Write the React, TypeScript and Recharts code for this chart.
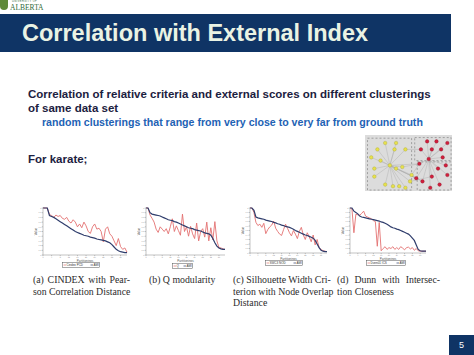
import React from 'react';
import {
  LineChart,
  Line,
  XAxis,
  YAxis,
  ScatterChart,
  Scatter,
  ReferenceLine,
  ReferenceArea,
} from 'recharts';

// x categories: partitionings of karate, ordered from close to far from ground truth
const partitions = [
  0, 1, 2, 3, 4, 5, 6, 7, 8, 9, 10, 11, 12, 13, 14, 15, 16, 17, 18, 19, 20, 21, 22, 23, 24, 25,
  26, 27, 28, 29, 30, 31, 32, 33, 34, 35, 36, 37, 38, 39,
];
const xTicks = [0, 4, 8, 12, 16, 20, 24, 28, 32, 36];
const yTicks = [0, 0.1, 0.2, 0.3, 0.4, 0.5, 0.6, 0.7, 0.8, 0.9, 1];

// (a) CINDEX with Pearson correlation distance
const cindexPcd = [
  1, 1, 1, 0.86, 0.84, 0.8, 0.85, 0.82, 0.84, 0.78, 0.76, 0.8, 0.72, 0.68, 0.75, 0.7, 0.6, 0.66,
  0.58, 0.7, 0.62, 0.5, 0.46, 0.6, 0.66, 0.55, 0.57, 0.5, 0.28, 0.55, 0.6, 0.45, 0.4, 0.3, 0.2,
  0.35, 0.18, 0.12, 0.15, 0.06,
];
const amiA = [
  1, 1, 1, 0.84, 0.82, 0.8, 0.77, 0.74, 0.71, 0.68, 0.65, 0.62, 0.59, 0.56, 0.53, 0.5, 0.48, 0.46,
  0.44, 0.42, 0.41, 0.4, 0.38, 0.37, 0.36, 0.34, 0.33, 0.32, 0.31, 0.3, 0.28, 0.26, 0.22, 0.17,
  0.12, 0.09, 0.07, 0.06, 0.05, 0.05,
];

// (b) Q modularity
const modularityQ = [
  1, 1, 0.85, 0.78, 0.7, 0.55, 0.48, 0.6, 0.55, 0.5, 0.56, 0.45, 0.6, 0.77, 0.5, 0.62, 0.52, 0.42,
  0.87, 0.5, 0.6, 0.4, 0.61, 0.45, 0.35, 0.68, 0.3, 0.5, 0.56, 0.38, 0.7, 0.3, 0.58, 0.32, 0.71,
  0.3, 0.16, 0.15, 0.13, 0.12,
];
const amiB = [
  1, 1, 0.9, 0.87, 0.86, 0.85, 0.84, 0.83, 0.81, 0.79, 0.77, 0.75, 0.74, 0.73, 0.71, 0.7, 0.68,
  0.66, 0.64, 0.62, 0.6, 0.58, 0.57, 0.56, 0.54, 0.53, 0.52, 0.51, 0.49, 0.47, 0.46, 0.45, 0.42,
  0.35, 0.26, 0.19, 0.15, 0.13, 0.12, 0.12,
];

// (c) Silhouette width criterion with node overlap distance
const swcNod = [
  1, 1, 0.9, 0.68, 0.61, 0.64, 0.57, 0.66, 0.43, 0.52, 0.58, 0.62, 0.71, 0.55, 0.48, 0.42, 0.39,
  0.52, 0.64, 0.55, 0.45, 0.38, 0.5, 0.42, 0.32, 0.48, 0.57, 0.4, 0.3, 0.45, 0.36, 0.25, 0.4,
  0.18, 0.3, 0.12, 0.08, 0.05, 0.04, 0.03,
];
const amiC = [
  1, 1, 0.95, 0.8, 0.78, 0.77, 0.76, 0.75, 0.73, 0.72, 0.71, 0.7, 0.68, 0.67, 0.65, 0.64, 0.62,
  0.61, 0.59, 0.58, 0.57, 0.55, 0.53, 0.5, 0.48, 0.46, 0.44, 0.42, 0.4, 0.39, 0.37, 0.35, 0.33,
  0.28, 0.2, 0.12, 0.06, 0.04, 0.03, 0.03,
];

// (d) Dunn with intersection closeness
const dunnIcs = [
  1, 0.98, 0.45, 0.86, 0.85, 0.84, 0.88, 0.93, 0.82, 0.8, 0.78, 0.76, 0.72, 0.7, 0.15, 0.68, 0.05,
  0.1, 0.14, 0.08, 0.12, 0.1, 0.14, 0.08, 0.12, 0.08, 0.14, 0.11, 0.07, 0.12, 0.13, 0.09, 0.12,
  0.06, 0.1, 0.05, 0.04, 0.04, 0.04, 0.04,
];
const amiD = [
  1, 1, 0.93, 0.9, 0.87, 0.82, 0.8, 0.79, 0.78, 0.77, 0.76, 0.75, 0.74, 0.73, 0.72, 0.71, 0.69,
  0.68, 0.66, 0.64, 0.61, 0.58, 0.56, 0.55, 0.53, 0.52, 0.5, 0.48, 0.46, 0.44, 0.42, 0.38, 0.33,
  0.28, 0.18, 0.08, 0.05, 0.04, 0.04, 0.04,
];

// karate network thumbnail (first node of each group is its hub)
const yellowNodes = [
  { x: 80, y: 95 }, { x: 65, y: 25 }, { x: 100, y: 25 }, { x: 130, y: 45 }, { x: 20, y: 70 },
  { x: 40, y: 45 }, { x: 95, y: 45 }, { x: 100, y: 105 }, { x: 120, y: 100 }, { x: 30, y: 105 },
  { x: 30, y: 130 }, { x: 65, y: 155 }, { x: 90, y: 160 }, { x: 110, y: 160 }, { x: 130, y: 165 },
  { x: 150, y: 125 }, { x: 145, y: 145 }, { x: 50, y: 80 },
];
const redNodes = [
  { x: 205, y: 75 }, { x: 200, y: 20 }, { x: 230, y: 20 }, { x: 265, y: 25 }, { x: 180, y: 45 },
  { x: 215, y: 45 }, { x: 245, y: 45 }, { x: 250, y: 70 }, { x: 175, y: 90 }, { x: 235, y: 105 },
  { x: 260, y: 95 }, { x: 215, y: 130 }, { x: 265, y: 125 }, { x: 185, y: 145 }, { x: 240, y: 155 },
  { x: 210, y: 165 }, { x: 165, y: 135 },
];
const crossLinks = [
  [0, 8], [0, 13], [0, 16], [3, 4], [8, 8], [15, 13], [16, 11], [7, 16], [15, 8],
];

const RED = '#e37070';
const NAVY_LINE = '#2f3d6c';
const AXIS = '#9a9a9a';

type MiniProps = {
  x: number;
  y: number;
  w: number;
  h: number;
  crit: number[];
  ami: number[];
  critName: string;
  legend: { x: number; y: number; w: number };
};

const MiniChart: React.FC<MiniProps> = ({ x, y, w, h, crit, ami, critName, legend }) => {
  const data = partitions.map((p, i) => ({ p, crit: crit[i], ami: ami[i] }));
  return (
    <>
      <div style={{ position: 'absolute', left: x - 9, top: y - 2 }}>
        <LineChart
          width={w + 11}
          height={h + 8.5}
          data={data}
          margin={{ top: 2, right: 2, bottom: 0, left: 0 }}
        >
          <XAxis
            dataKey="p"
            type="number"
            domain={[0, 39]}
            ticks={xTicks}
            interval={0}
            height={6.5}
            tickSize={1.2}
            tickMargin={0.3}
            stroke={AXIS}
            strokeWidth={0.6}
            tick={{ fontSize: 2, fill: '#8a8a8a' }}
            label={{ value: 'Partitionings', position: 'insideBottom', offset: 0, fontSize: 3, fill: '#555' }}
          />
          <YAxis
            domain={[0, 1]}
            ticks={yTicks}
            interval={0}
            width={9}
            tickSize={1.2}
            tickMargin={0.4}
            stroke={AXIS}
            strokeWidth={0.6}
            tick={{ fontSize: 2, fill: '#8a8a8a' }}
            label={{
              value: 'Value',
              angle: -90,
              position: 'insideLeft',
              offset: 2,
              fontSize: 3,
              fill: '#555',
              style: { textAnchor: 'middle' },
            }}
          />
          <Line
            dataKey="crit"
            type="linear"
            stroke={RED}
            strokeWidth={0.9}
            dot={false}
            isAnimationActive={false}
          />
          <Line
            dataKey="ami"
            type="linear"
            stroke={NAVY_LINE}
            strokeWidth={1.2}
            dot={false}
            isAnimationActive={false}
          />
        </LineChart>
      </div>
      <svg
        width={legend.w}
        height={6}
        style={{ position: 'absolute', left: legend.x, top: legend.y }}
      >
        <rect x={0.3} y={0.3} width={legend.w - 0.6} height={5.4} fill="#fff" stroke="#555" strokeWidth={0.5} />
        <line x1={1.5} x2={4} y1={3} y2={3} stroke={RED} strokeWidth={0.7} />
        <text x={4.5} y={4} fontSize={3} fill="#333" fontFamily="Liberation Sans, Arial">
          {critName}
        </text>
        <line x1={legend.w - 9.5} x2={legend.w - 7} y1={3} y2={3} stroke={NAVY_LINE} strokeWidth={0.7} />
        <text x={legend.w - 6.6} y={4} fontSize={3} fill="#333" fontFamily="Liberation Sans, Arial">
          AMI
        </text>
      </svg>
    </>
  );
};

const caption: React.CSSProperties = {
  position: 'absolute',
  fontFamily: '"Liberation Serif", "Times New Roman", serif',
  fontSize: 9.8,
  lineHeight: '11.5px',
  color: '#2b2b2b',
  whiteSpace: 'nowrap',
};

const Node = (color: string, edge: string) => (props: any) => (
  <circle cx={props.cx} cy={props.cy} r={1.8} fill={color} stroke={edge} strokeWidth={0.3} />
);

const Network: React.FC = () => (
  <div style={{ position: 'absolute', left: 365, top: 135, width: 87, height: 56, background: '#dcdcdc' }}>
    <ScatterChart width={87} height={56} margin={{ top: 0, right: 0, bottom: 0, left: 0 }}>
      <XAxis type="number" dataKey="x" domain={[0, 280]} hide />
      <YAxis type="number" dataKey="y" domain={[0, 175]} reversed hide />
      <ReferenceArea x1={160} x2={277} y1={8} y2={80} fill="none" stroke="#777" strokeDasharray="2 2" strokeWidth={0.6} />
      <ReferenceArea x1={168} x2={277} y1={84} y2={172} fill="none" stroke="#777" strokeDasharray="2 2" strokeWidth={0.6} />
      <ReferenceArea x1={8} x2={150} y1={10} y2={172} fill="none" stroke="#777" strokeDasharray="2 2" strokeWidth={0.6} />
      {yellowNodes.slice(1).map((n, i) => (
        <ReferenceLine key={`y${i}`} segment={[yellowNodes[0], n]} stroke="#a9a9a9" strokeWidth={0.4} />
      ))}
      {redNodes.slice(1).map((n, i) => (
        <ReferenceLine key={`r${i}`} segment={[redNodes[0], n]} stroke="#a9a9a9" strokeWidth={0.4} />
      ))}
      {crossLinks.map(([a, b], i) => (
        <ReferenceLine key={`c${i}`} segment={[yellowNodes[a], redNodes[b]]} stroke="#a9a9a9" strokeWidth={0.4} />
      ))}
      <Scatter data={yellowNodes} shape={Node('#e6e04c', '#9a9a30')} isAnimationActive={false} />
      <Scatter data={redNodes} shape={Node('#d11f3d', '#7a1020')} isAnimationActive={false} />
    </ScatterChart>
  </div>
);

const App: React.FC = () => (
  <div
    style={{
      position: 'absolute',
      left: 0,
      top: 0,
      width: 474,
      height: 355,
      overflow: 'hidden',
      background: '#fff',
      fontFamily: '"Liberation Sans", Arial, sans-serif',
    }}
  >
    {/* logo */}
    <div style={{ position: 'absolute', left: 0, top: 0, width: 8, height: 10, background: '#5f8a3a', borderRadius: '0 0 4px 4px' }} />
    <div style={{ position: 'absolute', left: 12, top: 0, fontSize: 2.6, color: '#2e6b3a', letterSpacing: 0.4, lineHeight: '3px' }}>
      UNIVERSITY OF
    </div>
    <div style={{ position: 'absolute', left: 10, top: 4, fontSize: 7.5, color: '#2e6b3a', fontFamily: '"Liberation Serif", serif', lineHeight: '7px' }}>
      ALBERTA
    </div>

    {/* title banner */}
    <div style={{ position: 'absolute', left: 0, top: 14, width: 451, height: 38, background: '#0f3465' }} />
    <div
      style={{
        position: 'absolute',
        left: 22,
        top: 19,
        fontSize: 23.5,
        fontWeight: 'bold',
        color: '#eaf3e4',
        lineHeight: '28px',
        whiteSpace: 'nowrap',
      }}
    >
      Correlation with External Index
    </div>

    {/* body text */}
    <div style={{ position: 'absolute', left: 28, top: 88, fontSize: 11.5, fontWeight: 'bold', color: '#1c2140', lineHeight: '13.5px', whiteSpace: 'nowrap' }}>
      Correlation of relative criteria and external scores on different clusterings
      <br />
      of same data set
    </div>
    <div style={{ position: 'absolute', left: 42, top: 116, fontSize: 10.6, fontWeight: 'bold', color: '#2262b4', lineHeight: '13px', whiteSpace: 'nowrap' }}>
      random clusterings that range from very close to very far from ground truth
    </div>
    <div style={{ position: 'absolute', left: 28, top: 153, fontSize: 11.5, fontWeight: 'bold', color: '#1c2140', lineHeight: '13px' }}>
      For karate;
    </div>

    <Network />

    <MiniChart x={43} y={208} w={84} h={47} crit={cindexPcd} ami={amiA} critName="Cindex PCD" legend={{ x: 62, y: 262, w: 38 }} />
    <MiniChart x={146} y={208} w={79} h={47} crit={modularityQ} ami={amiB} critName="Q" legend={{ x: 172, y: 263, w: 21 }} />
    <MiniChart x={250} y={208} w={77} h={45} crit={swcNod} ami={amiC} critName="SWC3 NOD" legend={{ x: 265, y: 260, w: 38 }} />
    <MiniChart x={350} y={208} w={76} h={45} crit={dunnIcs} ami={amiD} critName="Dunn01 ICS" legend={{ x: 366, y: 260, w: 40 }} />

    {/* captions */}
    <div style={{ ...caption, left: 33, top: 274, width: 97 }}>
      <div style={{ textAlign: 'justify', textAlignLast: 'justify', whiteSpace: 'normal' }}>(a) CINDEX with Pear-</div>
      <div>son Correlation Distance</div>
    </div>
    <div style={{ ...caption, left: 149, top: 274 }}>(b) Q modularity</div>
    <div style={{ ...caption, left: 233, top: 274 }}>
      <div>(c) Silhouette Width Cri-</div>
      <div>terion with Node Overlap</div>
      <div>Distance</div>
    </div>
    <div style={{ ...caption, left: 337, top: 274, width: 103 }}>
      <div style={{ textAlign: 'justify', textAlignLast: 'justify', whiteSpace: 'normal' }}>(d) Dunn with Intersec-</div>
      <div>tion Closeness</div>
    </div>

    {/* page number */}
    <div
      style={{
        position: 'absolute',
        left: 449,
        top: 335,
        width: 25,
        height: 20,
        background: '#0f3465',
        color: '#fff',
        fontSize: 9,
        textAlign: 'center',
        lineHeight: '20px',
      }}
    >
      5
    </div>
  </div>
);

export default App;
